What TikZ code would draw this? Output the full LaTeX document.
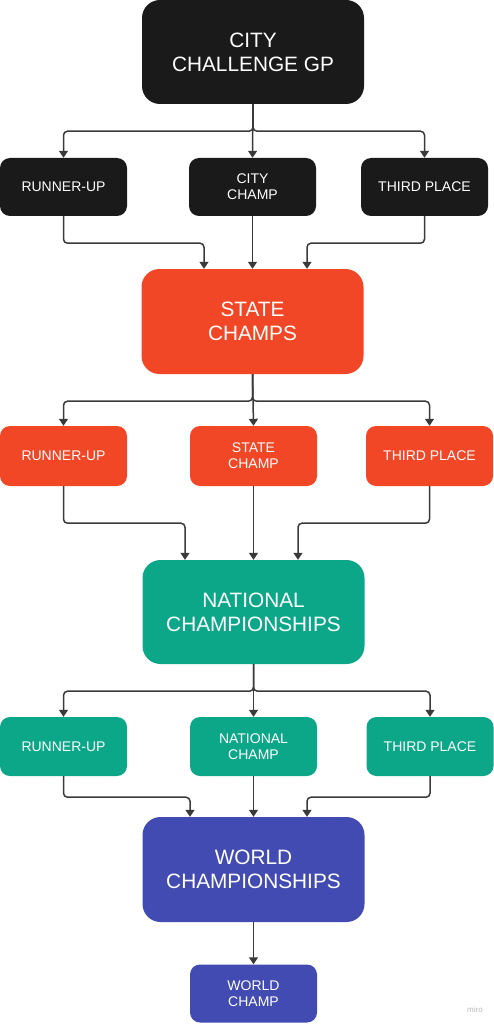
\documentclass[tikz,border=0pt]{standalone}
\usepackage{fontspec}
\setmainfont{Liberation Sans}
\usepackage{tikz}
\usetikzlibrary{arrows.meta, positioning, calc}
\definecolor{MiroBlack}{HTML}{1A1A1A}
\definecolor{MiroRed}{HTML}{F24726}
\definecolor{MiroGreen}{HTML}{0CA789}
\definecolor{MiroBlue}{HTML}{414BB2}
\definecolor{LinkGray}{HTML}{3A3A3A}
\definecolor{MarkGray}{HTML}{B8B8B8}

\begin{document}
\begin{tikzpicture}[x=1pt, y=-1pt,
    bigbox/.style={fill=#1, text=white, rounded corners=18pt, minimum width=222pt, minimum height=104pt,
        inner sep=0pt, align=center, font=\fontsize{20.8}{24}\selectfont},
    smallbox/.style={fill=#1, text=white, rounded corners=10pt, minimum width=127pt, minimum height=59pt,
        inner sep=0pt, align=center, font=\fontsize{14}{16}\selectfont},
    link/.style={draw=LinkGray, line width=1.5pt, rounded corners=4pt, -{Triangle[length=7pt, width=9pt]}}]
    \useasboundingbox (0,0) rectangle (494,1024);

    % city level
    \node[bigbox=MiroBlack] (citygp) at (253,52) {CITY\\CHALLENGE GP};
    \node[smallbox=MiroBlack, minimum height=58pt] (cityru) at (63.5,187) {RUNNER-UP};
    \node[smallbox=MiroBlack, minimum height=58pt] (citychamp) at (252.5,187) {CITY\\CHAMP};
    \node[smallbox=MiroBlack, minimum height=58pt] (citythird) at (424.5,187) {THIRD PLACE};

    % state level
    \node[bigbox=MiroRed, minimum height=105pt] (state) at (252.5,321.5) {STATE\\CHAMPS};
    \node[smallbox=MiroRed, minimum height=60pt] (stateru) at (63.5,456) {RUNNER-UP};
    \node[smallbox=MiroRed, minimum height=60pt] (statechamp) at (253.5,456) {STATE\\CHAMP};
    \node[smallbox=MiroRed, minimum height=60pt] (statethird) at (429.5,456) {THIRD PLACE};

    % national level
    \node[bigbox=MiroGreen] (national) at (253.5,612) {NATIONAL\\CHAMPIONSHIPS};
    \node[smallbox=MiroGreen] (natru) at (63.5,746.5) {RUNNER-UP};
    \node[smallbox=MiroGreen] (natchamp) at (253.5,746.5) {NATIONAL\\CHAMP};
    \node[smallbox=MiroGreen] (natthird) at (430,746.5) {THIRD PLACE};

    % world level
    \node[bigbox=MiroBlue, minimum height=105pt] (world) at (253.5,869.5) {WORLD\\CHAMPIONSHIPS};
    \node[smallbox=MiroBlue, minimum height=58pt] (worldchamp) at (253.5,993.5) {WORLD\\CHAMP};

    \node[text=MarkGray, font=\fontsize{8}{9}\selectfont] (miro) at (475,1010) {miro};

    % splits
    \draw[link] (citygp.south) -- (citychamp.north);
    \draw[link] (citygp.south) -- ++(0,27) -| (cityru.north);
    \draw[link] (citygp.south) -- ++(0,27) -| (citythird.north);
    \draw[link] (state.south) -- (statechamp.north);
    \draw[link] (state.south) -- ++(0,27) -| (stateru.north);
    \draw[link] (state.south) -- ++(0,27) -| (statethird.north);
    \draw[link] (national.south) -- (natchamp.north);
    \draw[link] (national.south) -- ++(0,27) -| (natru.north);
    \draw[link] (national.south) -- ++(0,27) -| (natthird.north);

    % merges
    \draw[link] (citychamp.south) -- (state.north);
    \draw[link] (cityru.south) -- ++(0,27) -| ([xshift=-48.5pt]state.north);
    \draw[link] (citythird.south) -- ++(0,27) -| ([xshift=54.5pt]state.north);
    \draw[link] (statechamp.south) -- (national.north);
    \draw[link] (stateru.south) -- ++(0,37) -| ([xshift=-68.5pt]national.north);
    \draw[link] (statethird.south) -- ++(0,37) -| ([xshift=44.5pt]national.north);
    \draw[link] (natchamp.south) -- (world.north);
    \draw[link] (natru.south) -- ++(0,21) -| ([xshift=-63.5pt]world.north);
    \draw[link] (natthird.south) -- ++(0,21) -| ([xshift=53.5pt]world.north);
    \draw[link] (world.south) -- (worldchamp.north);
\end{tikzpicture}
\end{document}
